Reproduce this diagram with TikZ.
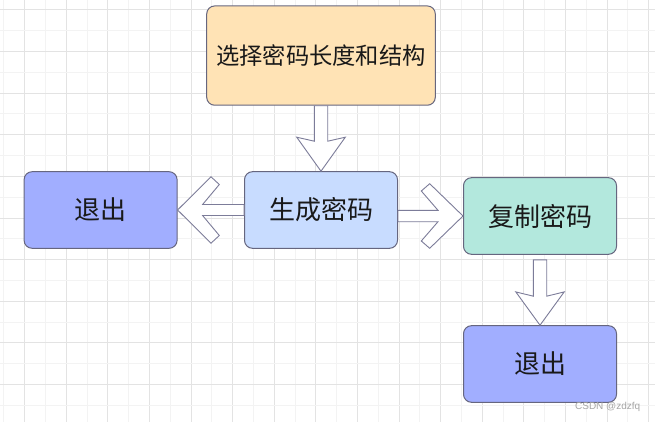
\documentclass[tikz,border=0pt]{standalone}
\usepackage{fontspec}
\newfontfamily\cjk{Noto Sans CJK SC}
\newfontfamily\latinsans{Liberation Sans}
\usetikzlibrary{calc}

\definecolor{gridlight}{HTML}{F3F3F3}
\definecolor{griddark}{HTML}{E3E3E3}
\definecolor{edgegray}{HTML}{66667F}
\definecolor{arrowgray}{HTML}{7C7C99}
\definecolor{selfill}{HTML}{FFE3B5}
\definecolor{genfill}{HTML}{C8DCFF}
\definecolor{quitfill}{HTML}{A1AEFF}
\definecolor{copyfill}{HTML}{B3E8DD}

\tikzset{
  box/.style={draw=edgegray, line width=1pt, rounded corners=8pt, inner sep=0pt,
    minimum width=153pt, minimum height=76.6pt, text=black!90,
    font=\cjk\fontsize{26}{30}\selectfont},
  blockarrow/.style={draw=arrowgray, fill=white, line width=0.9pt, line join=miter},
}

\begin{document}
\begin{tikzpicture}[x=1pt, y=-1pt]
  % page: 655 x 422, y runs downwards
  \useasboundingbox (0,0) rectangle (655,422);
  \fill[white] (0,0) rectangle (655,422);

  % background grid, every second line darker
  \foreach \k in {0,...,31} {
    \pgfmathsetmacro{\gx}{3.9+20.8*\k}
    \ifodd\k
      \draw[griddark, line width=1pt] (\gx,0) -- (\gx,422);
    \else
      \draw[gridlight, line width=1pt] (\gx,0) -- (\gx,422);
    \fi
  }
  \foreach \k in {0,...,20} {
    \pgfmathsetmacro{\gy}{10+20.8*\k}
    \ifodd\k
      \draw[gridlight, line width=1pt] (0,\gy) -- (655,\gy);
    \else
      \draw[griddark, line width=1pt] (0,\gy) -- (655,\gy);
    \fi
  }

  % boxes
  \node[box, fill=selfill, minimum width=228.6pt, minimum height=99.3pt,
        font=\cjk\fontsize{23.3}{28}\selectfont] (select) at (321,55.6) {选择密码长度和结构};
  \node[box, fill=genfill] (gen) at (321,210) {生成密码};
  \node[box, fill=quitfill] (quitleft) at (100.6,210) {退出};
  \node[box, fill=copyfill] (copy) at (540,216) {复制密码};
  \node[box, fill=quitfill] (quitdown) at (540,364) {退出};

  % hollow block arrows
  % select -> gen (down)
  \draw[blockarrow] ($(select.south)+(-6.7,0)$) -- ($(gen.north)+(-6.7,-30)$)
    -- ($(gen.north)+(-24.3,-34)$) -- (gen.north) -- ($(gen.north)+(24.3,-34)$)
    -- ($(gen.north)+(6.7,-30)$) -- ($(select.south)+(6.7,0)$) -- cycle;
  % gen -> quitleft (chevron head)
  \draw[blockarrow] ($(gen.west)+(0,-5.5)$) -- ($(quitleft.east)+(25,-5.5)$)
    -- ($(quitleft.east)+(41.7,-25.5)$) -- ($(quitleft.east)+(33.4,-33.2)$)
    -- (quitleft.east) -- ($(quitleft.east)+(33.4,33.2)$)
    -- ($(quitleft.east)+(41.7,25.5)$) -- ($(quitleft.east)+(25,5.5)$)
    -- ($(gen.west)+(0,5.5)$) -- cycle;
  % gen -> copy (chevron head)
  \draw[blockarrow] ($(gen.east |- copy.west)+(0,-5.7)$) -- ($(copy.west)+(-25,-5.7)$)
    -- ($(copy.west)+(-41.7,-25)$) -- ($(copy.west)+(-33.3,-32.3)$)
    -- (copy.west) -- ($(copy.west)+(-33.3,32.3)$)
    -- ($(copy.west)+(-41.7,25)$) -- ($(copy.west)+(-25,5.7)$)
    -- ($(gen.east |- copy.west)+(0,5.7)$) -- cycle;
  % copy -> quitdown (down)
  \draw[blockarrow] ($(copy.south)+(-6.7,5)$) -- ($(quitdown.north)+(-6.7,-29)$)
    -- ($(quitdown.north)+(-24.2,-33.3)$) -- (quitdown.north) -- ($(quitdown.north)+(24.2,-33.3)$)
    -- ($(quitdown.north)+(6.7,-29)$) -- ($(copy.south)+(6.7,5)$) -- cycle;

  % watermark
  \node[text=black!35, font=\latinsans\fontsize{10}{12}\selectfont, inner sep=0pt]
    (mark) at (607.7,406.7) {CSDN @zdzfq};
\end{tikzpicture}
\end{document}
